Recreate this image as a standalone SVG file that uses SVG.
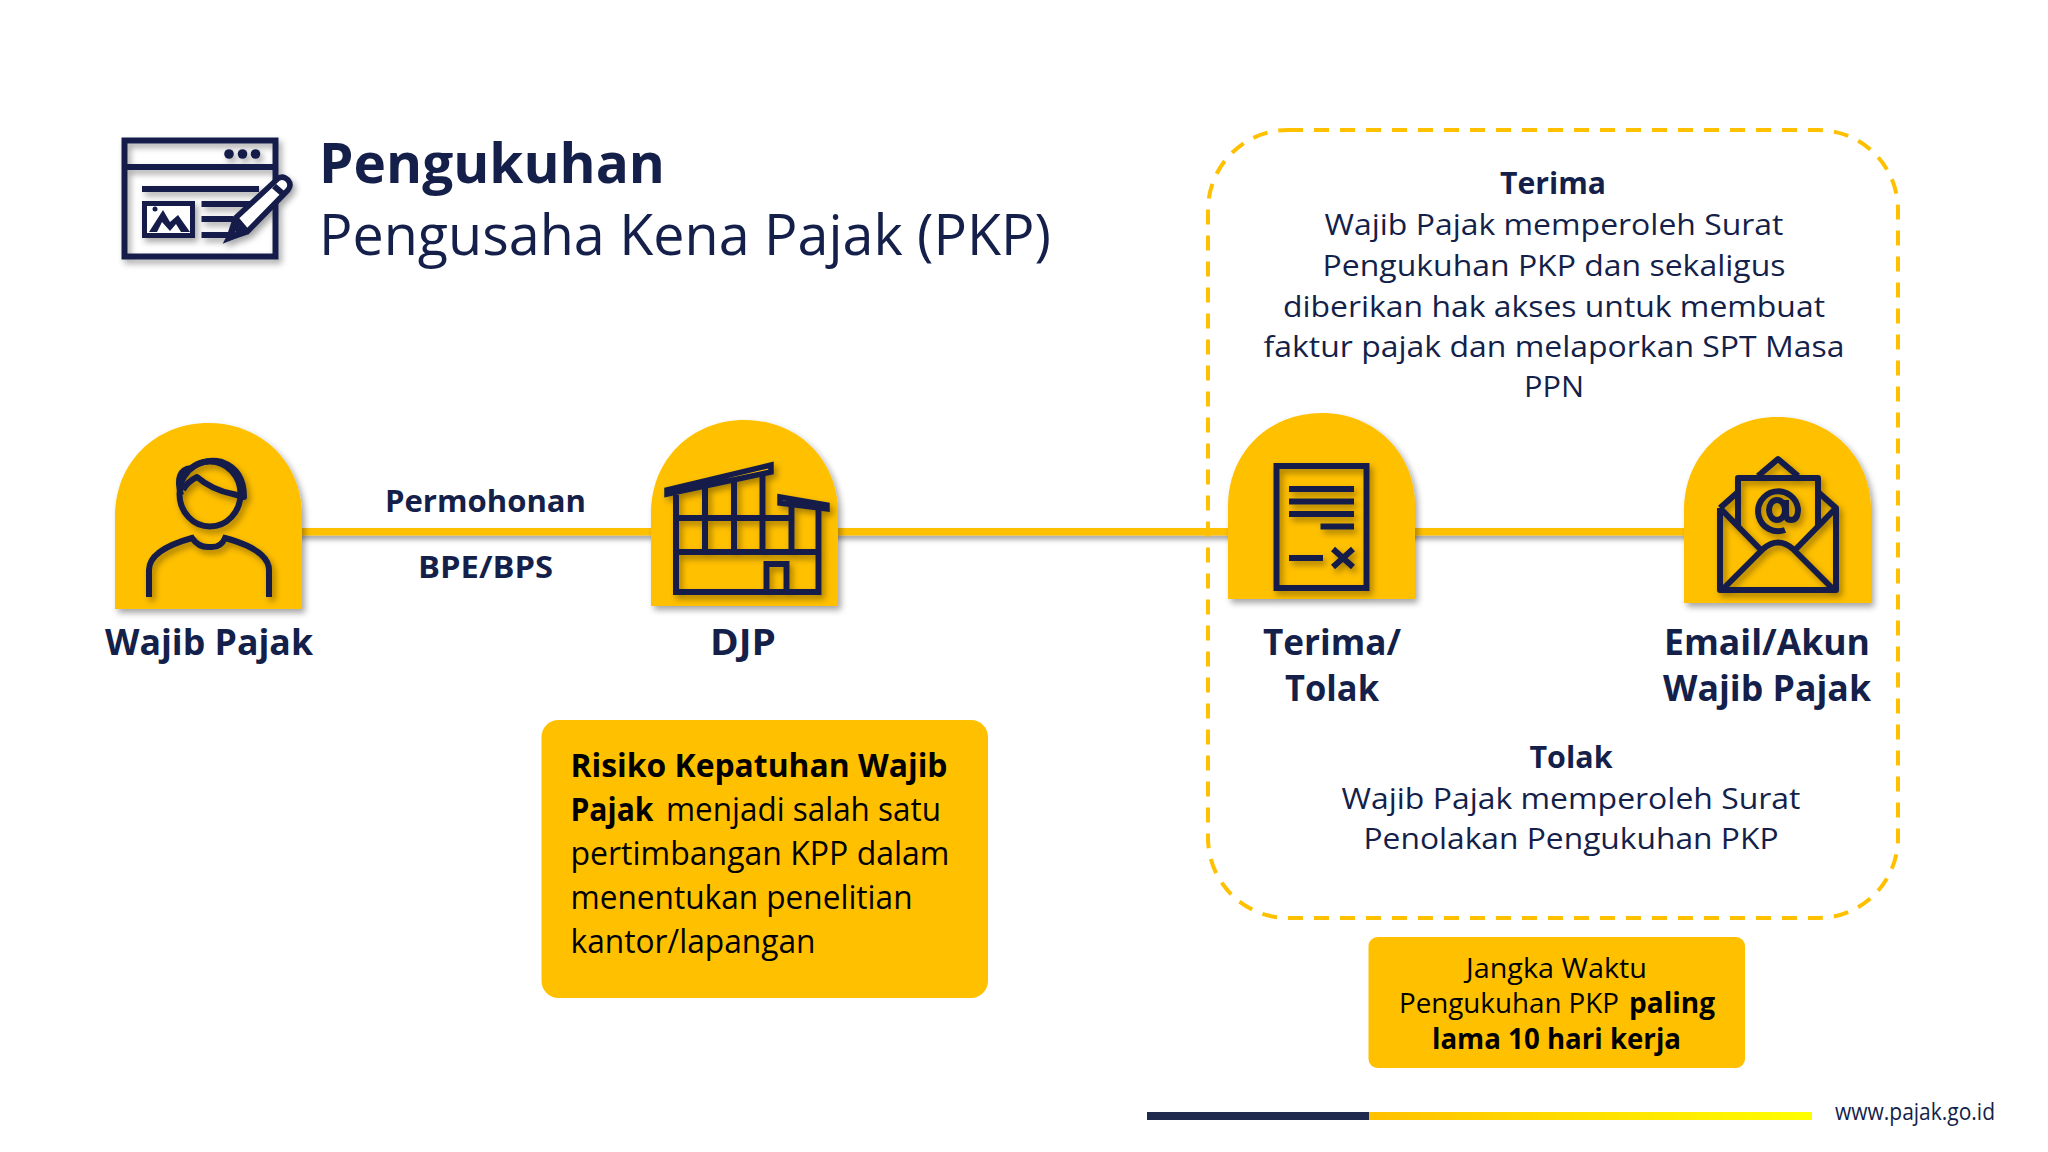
<svg xmlns="http://www.w3.org/2000/svg" width="2048" height="1152" viewBox="0 0 2048 1152">
<style>
text{font-family:"Open Sans","Noto Sans","Liberation Sans",sans-serif;fill:#141F4A}
.b{font-weight:700}
.m{text-anchor:middle}
.k{fill:#000}
.t{font-size:30px}
.l{font-size:35px;font-weight:700;text-anchor:middle}
.y{fill:#FFC000}
.i{fill:none;stroke:#141F4A;stroke-width:6}
.n{fill:#141F4A}
</style>
<defs>
<filter id="s" x="-15%" y="-15%" width="130%" height="130%"><feDropShadow dx="3" dy="4" stdDeviation="3" flood-color="#000" flood-opacity=".35"/></filter>
<filter id="s2" x="-5%" y="-100%" width="110%" height="500%"><feDropShadow dx="0" dy="4" stdDeviation="2.5" flood-color="#000" flood-opacity=".35"/></filter>
<linearGradient id="g" x1="0" x2="1" y1="0" y2="0"><stop offset="0" stop-color="#FFC000"/><stop offset="1" stop-color="#FFFF00"/></linearGradient>
<path id="dome" d="M0 186V93C0 40 40 0 93.500 0S187 40 187 93V186Z"/>
</defs>
<rect width="2048" height="1152" fill="#fff"/>

<g id="connectors">
<rect x="296" y="528" width="1400" height="7.500" class="y" filter="url(#s2)"/>
</g>

<g id="title-icon" filter="url(#s)">
<rect x="124.500" y="140.500" width="151" height="116" class="i"/>
<path d="M124 167H276" class="i"/>
<circle cx="229" cy="154" r="4.800" class="n"/><circle cx="242.500" cy="154" r="4.800" class="n"/><circle cx="255.500" cy="154" r="4.800" class="n"/>
<path d="M142 189H259M201.500 204H250M201.500 219H233M201.500 235H228" class="i"/>
<rect x="144.500" y="203.500" width="48" height="32" fill="#fff" stroke="#141F4A" stroke-width="5"/>
<path d="M149 232L163 210L170 222L178 215L190 232H181L176 224L170 231L162 222L157 232Z" class="n"/>
<circle cx="155" cy="209" r="2.500" class="n"/>
<path d="M229 238L235.500 218L278 178.500Q283 175 288 180Q292 185 288 190L247 232Z" fill="#fff" stroke="#141F4A" stroke-width="5.500" stroke-linejoin="round"/>
<path d="M236 219L247 232M229 238L235 226L241 233Z" class="i" stroke-width="3"/>
<path d="M274 186L282 193" class="i" stroke-width="4"/>
</g>
<g id="title">
<text x="319" y="183" font-size="55" class="b" textLength="346" lengthAdjust="spacingAndGlyphs">Pengukuhan</text>
<text x="319" y="255" font-size="56" textLength="732" lengthAdjust="spacingAndGlyphs">Pengusaha Kena Pajak (PKP)</text>
</g>

<g id="wajib-pajak">
<use href="#dome" x="115" y="423" class="y" filter="url(#s)"/>
<g filter="url(#s)">
<ellipse cx="210" cy="494" rx="30.500" ry="32.500" class="i"/>
<path d="M181 495Q174 470 191 468Q205 458 222 462Q244 470 244 497L233 494Q212 490 197 477Q187 482 183 490" class="i" stroke-linejoin="round"/>
<path d="M149 597V570Q149 550 192 538Q199 548 210 547Q221 548 225 538Q269 550 269 570V597" class="i"/>
</g>
<text x="209" y="655" class="l" textLength="208" lengthAdjust="spacingAndGlyphs">Wajib Pajak</text>
</g>

<g id="djp">
<use href="#dome" x="651" y="420" class="y" filter="url(#s)"/>
<g filter="url(#s)">
<path d="M667 490L771 465V472L667 494ZM780 497L827 505V509L780 503Z" fill="#FFC000" stroke="#141F4A" stroke-width="5.500"/>
<path d="M676 495V592H818.500V510M705 488V552M734 482V552M762.500 475V552M791.500 500V552M676 518H790M676 552H818.500M766.500 592V564H786.500V592" class="i"/>
</g>
<text x="743" y="655" class="l" textLength="66" lengthAdjust="spacingAndGlyphs">DJP</text>
</g>

<g id="permohonan-label">
<text x="485.500" y="512" class="m b" font-size="30" textLength="201" lengthAdjust="spacingAndGlyphs">Permohonan</text>
<text x="485.500" y="578" class="m b" font-size="30" textLength="135" lengthAdjust="spacingAndGlyphs">BPE/BPS</text>
</g>

<g id="terima-group">
<rect x="1208" y="130" width="690" height="788" rx="80" ry="80" fill="none" stroke="#FFC000" stroke-width="4" stroke-dasharray="15 11"/>
<text x="1553" y="194" class="m b t" textLength="106" lengthAdjust="spacingAndGlyphs">Terima</text>
<text x="1554" y="235" class="m t" textLength="459" lengthAdjust="spacingAndGlyphs">Wajib Pajak memperoleh Surat</text>
<text x="1554" y="276" class="m t" textLength="463" lengthAdjust="spacingAndGlyphs">Pengukuhan PKP dan sekaligus</text>
<text x="1554" y="317" class="m t" textLength="542" lengthAdjust="spacingAndGlyphs">diberikan hak akses untuk membuat</text>
<text x="1554" y="357" class="m t" textLength="581" lengthAdjust="spacingAndGlyphs">faktur pajak dan melaporkan SPT Masa</text>
<text x="1554" y="397" class="m t" textLength="60" lengthAdjust="spacingAndGlyphs">PPN</text>
<text x="1571" y="768" class="m b t" textLength="83" lengthAdjust="spacingAndGlyphs">Tolak</text>
<text x="1571" y="809" class="m t" textLength="459" lengthAdjust="spacingAndGlyphs">Wajib Pajak memperoleh Surat</text>
<text x="1571" y="849" class="m t" textLength="415" lengthAdjust="spacingAndGlyphs">Penolakan Pengukuhan PKP</text>
</g>

<g id="terima-tolak">
<use href="#dome" x="1228" y="413" class="y" filter="url(#s)"/>
<g filter="url(#s)">
<rect x="1276.500" y="466" width="90" height="122" class="i"/>
<path d="M1289 489H1354M1289 501.500H1354M1289 514H1354M1320.500 526.500H1354M1289 558H1323M1333 549L1353 567M1353 549L1333 567" class="i"/>
</g>
<text x="1332" y="655" class="l" textLength="138" lengthAdjust="spacingAndGlyphs">Terima/</text>
<text x="1332" y="701" class="l" textLength="94" lengthAdjust="spacingAndGlyphs">Tolak</text>
</g>

<g id="email-akun">
<use href="#dome" x="1684" y="417" class="y" filter="url(#s)"/>
<g filter="url(#s)">
<path d="M1720 508V590H1836V508L1818 492M1720 508L1738 492M1738 526V478H1818V526M1758 476L1778 459L1798 476M1720 508L1760 549M1836 508L1796 549M1722 590L1763 549Q1778 536 1793 549L1834 590" class="i" stroke-linejoin="round"/>
<ellipse cx="1777" cy="510" rx="8" ry="10" class="i" stroke-width="4.500"/>
<path d="M1786 500V514Q1786 520 1791 520Q1798 520 1798 509A20 20 0 1 0 1785 530" class="i" stroke-width="4.500"/>
</g>
<text x="1767" y="655" class="l" textLength="206" lengthAdjust="spacingAndGlyphs">Email/Akun</text>
<text x="1767" y="701" class="l" textLength="208" lengthAdjust="spacingAndGlyphs">Wajib Pajak</text>
</g>

<g id="risiko">
<rect x="541.500" y="720" width="446.500" height="278" rx="17" class="y"/>
<text x="570.500" y="777" font-size="32.500" class="k b" textLength="377" lengthAdjust="spacingAndGlyphs">Risiko Kepatuhan Wajib</text>
<text y="821" font-size="32.500" class="k"><tspan x="570.500" class="k b" textLength="83" lengthAdjust="spacingAndGlyphs">Pajak</tspan> <tspan x="666" class="k" textLength="275" lengthAdjust="spacingAndGlyphs">menjadi salah satu</tspan></text>
<text x="570.500" y="865" font-size="32.500" class="k" textLength="379" lengthAdjust="spacingAndGlyphs">pertimbangan KPP dalam</text>
<text x="570.500" y="909" font-size="32.500" class="k" textLength="342" lengthAdjust="spacingAndGlyphs">menentukan penelitian</text>
<text x="570.500" y="953" font-size="32.500" class="k" textLength="245" lengthAdjust="spacingAndGlyphs">kantor/lapangan</text>
</g>

<g id="jangka-waktu">
<rect x="1368.500" y="937" width="376.500" height="131" rx="9" class="y"/>
<text x="1556.500" y="978" font-size="28" class="k m" textLength="181" lengthAdjust="spacingAndGlyphs">Jangka Waktu</text>
<text y="1013" font-size="28" class="k"><tspan x="1399" class="k" textLength="220" lengthAdjust="spacingAndGlyphs">Pengukuhan PKP</tspan> <tspan x="1629" class="k b" textLength="86" lengthAdjust="spacingAndGlyphs">paling</tspan></text>
<text x="1556.500" y="1049" font-size="28" class="k m b" textLength="249" lengthAdjust="spacingAndGlyphs">lama 10 hari kerja</text>
</g>

<g id="footer">
<rect x="1147" y="1112" width="222" height="8" fill="#1F2A4E"/>
<rect x="1369" y="1112" width="443" height="8" fill="url(#g)"/>
<text x="1835" y="1120" font-size="23" textLength="160" lengthAdjust="spacingAndGlyphs">www.pajak.go.id</text>
</g>
</svg>
